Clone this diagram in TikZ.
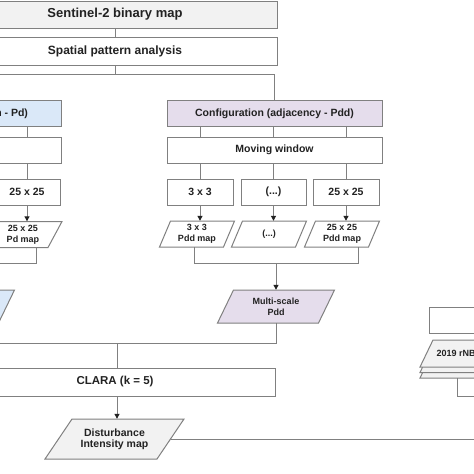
\documentclass[tikz,border=0pt]{standalone}
\usepackage{fontspec}
\setmainfont{Liberation Sans}
\usetikzlibrary{arrows.meta}
\definecolor{ln}{HTML}{808080}
\definecolor{gfill}{HTML}{F2F2F2}
\definecolor{bfill}{HTML}{DAE8F8}
\definecolor{pfill}{HTML}{E5DDEC}
\definecolor{tx}{HTML}{222222}
\tikzset{
  box/.style={draw=ln, line width=1pt, inner sep=0pt, text=tx, font=\bfseries\fontsize{10.5}{12.5}\selectfont},
  pg/.style={inner sep=0pt, text=tx, align=center, font=\bfseries\fontsize{9}{11}\selectfont},
  con/.style={draw=ln, line width=1pt},
  arr/.style={con, -{Triangle[length=5pt,width=5pt,color=tx]}},
  pgshape/.style={draw=ln, line width=1pt},
}
% name, cx, cy, w, h, slant, fill, text
\newcommand{\pgnode}[8]{%
  \filldraw[pgshape, fill=#7] ({#2-#4/2+#6},{#3-#5/2}) -- ({#2+#4/2+#6},{#3-#5/2}) -- ({#2+#4/2-#6},{#3+#5/2}) -- ({#2-#4/2-#6},{#3+#5/2}) -- cycle;
  \node[pg, minimum width=#4pt, minimum height=#5pt] (#1) at (#2,#3) {#8};}
\begin{document}
\begin{tikzpicture}[x=1pt,y=-1pt]
\useasboundingbox (0,0) rectangle (474,474);
\clip (0,0) rectangle (474,474);
\fill[white] (0,0) rectangle (474,474);

% top
\node[box, fill=gfill, minimum width=324pt, minimum height=27pt, font=\bfseries\fontsize{13}{15}\selectfont] (s2) at (115,14.5) {Sentinel-2 binary map};
\node[box, fill=white, minimum width=324pt, minimum height=28pt, font=\bfseries\fontsize{12}{14}\selectfont] (spa) at (115,51) {Spatial pattern analysis};

% right branch
\node[box, fill=pfill, minimum width=215pt, minimum height=26pt] (cfg) at (274.5,113.5) {Configuration (adjacency - Pdd)};
\node[box, fill=white, minimum width=215pt, minimum height=26pt] (mw) at (274.5,150) {Moving window};
\node[box, fill=white, minimum width=66pt, minimum height=26pt] (b33) at (200,192) {3 x 3};
\node[box, fill=white, minimum width=65pt, minimum height=26pt] (bdots) at (273.5,192) {(...)};
\node[box, fill=white, minimum width=66pt, minimum height=26pt] (b2525) at (346,192) {25 x 25};
\pgnode{p33}{197}{234}{64}{26}{5.5}{white}{3 x 3\\Pdd map}
\pgnode{pdots}{269}{234}{64}{26}{5.5}{white}{(...)}
\pgnode{p2525}{342}{234}{64}{26}{5.5}{white}{25 x 25\\Pdd map}
\pgnode{msd}{276}{306.5}{101}{33}{8}{pfill}{Multi-scale\\Pdd}

% left branch
\node[box, fill=bfill, minimum width=216pt, minimum height=26pt] (comp) at (-47,113.5) {Composition (proportion - Pd)};
\node[box, fill=white, minimum width=216pt, minimum height=26pt] (mwL) at (-47,150) {};
\node[box, fill=white, minimum width=66pt, minimum height=26pt] (b25L) at (27,192) {25 x 25};
\pgnode{p25L}{23}{234.5}{64}{26}{7}{white}{25 x 25\\Pd map}
\pgnode{msdL}{-44}{306.5}{101}{33}{8}{bfill}{}

% clustering
\node[box, fill=white, minimum width=320pt, minimum height=28pt, font=\bfseries\fontsize{11.5}{13.5}\selectfont] (clara) at (115,382) {CLARA (k = 5)};
\pgnode{dist}{114.5}{439}{112}{40}{13.5}{gfill}{\fontsize{10.5}{14}\selectfont Disturbance\\\fontsize{10.5}{14}\selectfont Intensity map}

% right-edge elements
\node[box, fill=white, minimum width=100pt, minimum height=26pt] (rb) at (479,320) {};
\pgnode{stk3}{476.5}{364.5}{100}{27}{6.5}{gfill}{}
\pgnode{stk2}{476.5}{359}{100}{27}{6.5}{gfill}{}
\pgnode{stk}{476.5}{353.5}{100}{27}{6.5}{gfill}{}
\node[pg, anchor=west] (stktxt) at (436.5,353.5) {2019 rNBR};

% coordinates
\coordinate (br) at (115,74);
\coordinate (j1) at (194,263);
\coordinate (j2) at (358,263);
\coordinate (j3) at (36,263);
\coordinate (j5) at (117,343);
\coordinate (j6) at (457,396);
\coordinate (e1) at (480,439);
\coordinate (e2) at (480,396);

% connectors top
\draw[con] (s2) -- (spa);
\draw[con] (spa) -- (br);
\draw[con] (br -| comp.north) -- (br -| cfg.north) -- (cfg.north);
\draw[con] (br -| comp.north) -- (comp.north);

% right branch connectors
\foreach \b in {b33,bdots,b2525}{
  \draw[con] (cfg.south -| \b.north) -- (mw.north -| \b.north);
  \draw[con] (mw.south -| \b.north) -- (\b.north);
}
\draw[arr] (b33.south) -- (b33.south |- p33.north);
\draw[arr] (bdots.south) -- (bdots.south |- pdots.north);
\draw[arr] (b2525.south) -- (b2525.south |- p2525.north);
\draw[con] (p33.south -| j1) -- (j1) -- (j2) -- (p2525.south -| j2);
\draw[arr] (msd.north |- j1) -- (msd.north);

% left branch connectors
\draw[con] (comp.south -| b25L.north) -- (mwL.north -| b25L.north);
\draw[con] (mwL.south -| b25L.north) -- (b25L.north);
\draw[arr] (b25L.south) -- (b25L.south |- p25L.north);
\draw[con] (p25L.south -| j3) -- (j3) -- (j3 -| msdL.north);
\draw[arr] (j3 -| msdL.north) -- (msdL.north);

% merge to CLARA
\draw[con] (msdL.south) -- (msdL.south |- j5) -- (msd.south |- j5) -- (msd.south);
\draw[con] (j5) -- (j5 |- clara.north);
\draw[arr] (clara.south -| j5) -- (j5 |- dist.north);
\draw[con] (dist.east) -- (e1);

% stack connector
\draw[con] ([yshift=-11pt]stk.south -| j6) -- (j6) -- (e2);
\end{tikzpicture}
\end{document}
